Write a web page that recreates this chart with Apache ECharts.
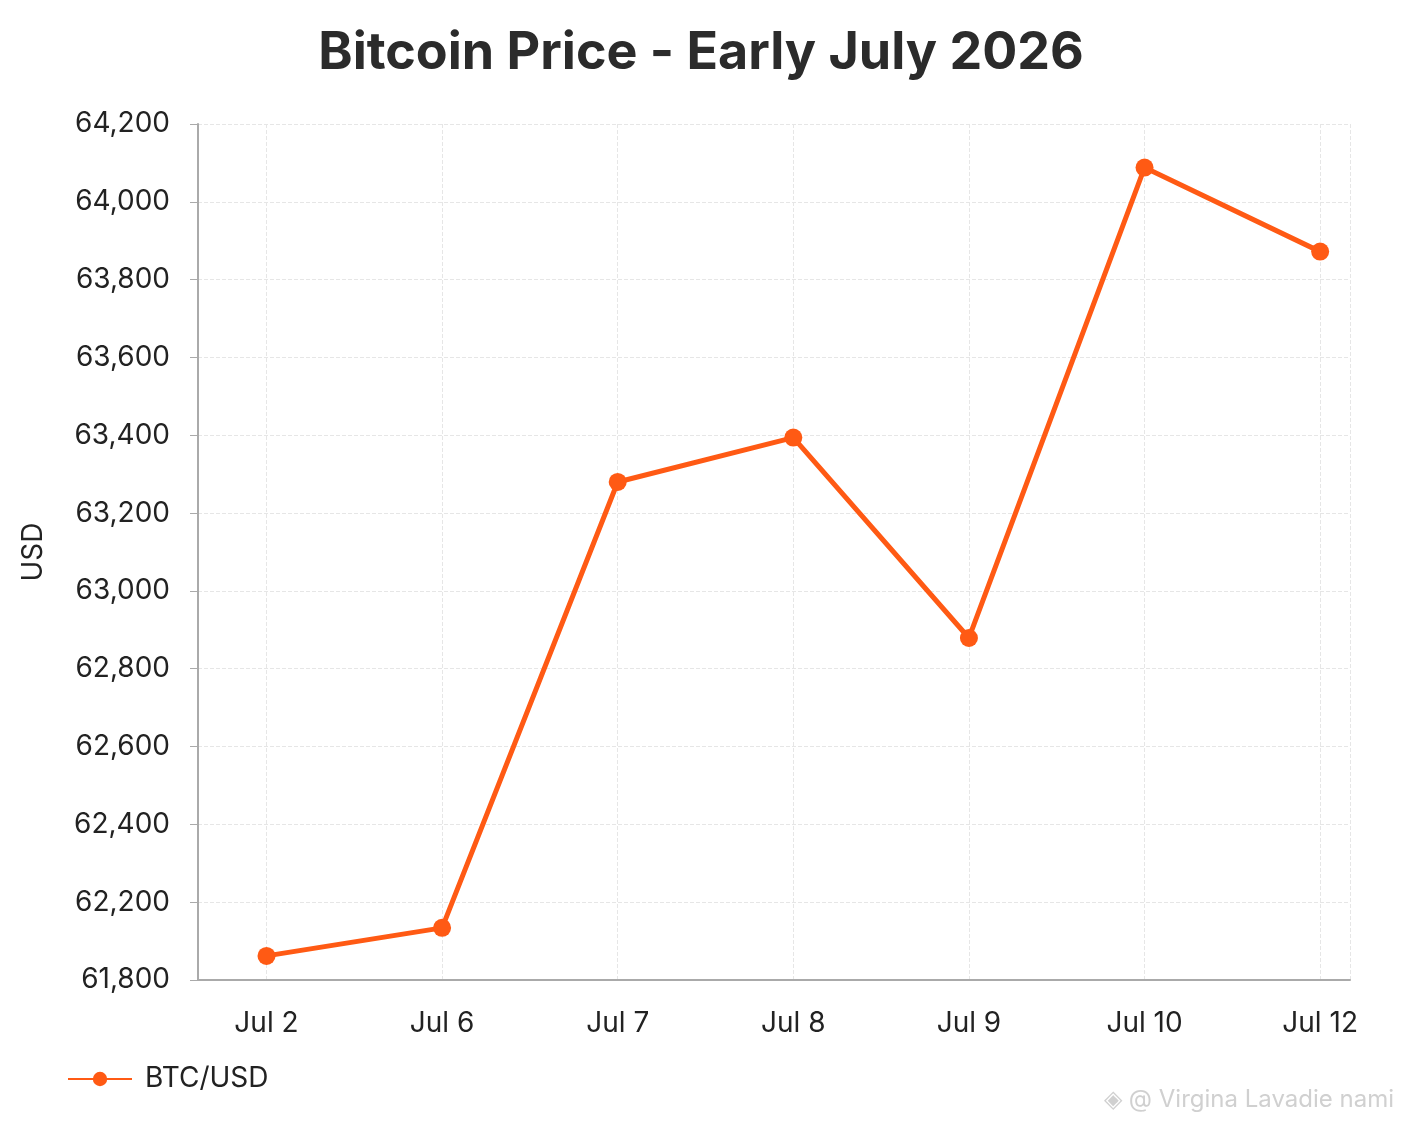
<!DOCTYPE html>
<html>
<head>
<meta charset="utf-8">
<script src="https://cdn.jsdelivr.net/npm/echarts@6/dist/echarts.min.js"></script>
<style>html,body{margin:0;background:#fff}#chart{width:1402px;height:1122px}</style>
</head>
<body>
<div id="chart"></div>
<script>
    var days = ['Jul 2', 'Jul 6', 'Jul 7', 'Jul 8', 'Jul 9', 'Jul 10', 'Jul 12'];
    var btcUsd = [62062, 62134, 63280, 63394, 62879, 64088, 63872];
    // tick labels as printed on the original (bottom one reads 61,800)
    var yTicks = [62000, 62200, 62400, 62600, 62800, 63000, 63200, 63400, 63600, 63800, 64000, 64200];
    var yTickLabels = ['61,800', '62,200', '62,400', '62,600', '62,800', '63,000', '63,200', '63,400', '63,600', '63,800', '64,000', '64,200'];

    var font = '"Inter", "Noto Sans", sans-serif';
    var myChart = echarts.init(document.getElementById('chart'));
    var option = {
        textStyle: { fontFamily: font },
        title: {
            text: 'Bitcoin Price - Early July 2026',
            left: 'center', top: 22,
            textStyle: { fontSize: 52, fontWeight: 'bold', color: '#2b2b2b', fontFamily: font }
        },
        legend: {
            left: 62, bottom: 24, itemWidth: 64, itemHeight: 18, itemGap: 20,
            textStyle: { fontSize: 28, color: '#222', padding: [0, 0, 0, 8] },
            data: ['BTC/USD']
        },
        grid: { left: 198, right: 52, top: 124, bottom: 142 },
        xAxis: {
            type: 'value', min: -0.39, max: 6.17,
            axisLine: { lineStyle: { color: '#aaa', width: 2 } },
            axisTick: { show: false },
            axisLabel: {
                customValues: [0, 1, 2, 3, 4, 5, 6],
                formatter: function (v) { return days[Math.round(v)]; },
                fontSize: 28, color: '#222', margin: 30
            },
            splitLine: { show: true, lineStyle: { type: 'dashed', color: '#e6e6e6' } }
        },
        yAxis: {
            type: 'value', min: 62000, max: 64200, interval: 200,
            name: 'USD', nameLocation: 'middle', nameGap: 150, nameRotate: 90,
            nameTextStyle: { fontSize: 28, color: '#222' },
            axisLine: { show: true, onZero: false, lineStyle: { color: '#aaa', width: 2 } },
            axisTick: { show: true, length: 8, lineStyle: { color: '#aaa' } },
            axisLabel: {
                fontSize: 28, color: '#222', margin: 28,
                formatter: function (v) { return yTickLabels[yTicks.indexOf(v)]; }
            },
            splitLine: { lineStyle: { type: 'dashed', color: '#e6e6e6' } }
        },
        series: [{
            name: 'BTC/USD',
            type: 'line',
            data: btcUsd.map(function (v, i) { return [i, v]; }),
            symbol: 'circle', symbolSize: 18,
            lineStyle: { width: 5, color: '#ff5a14' },
            itemStyle: { color: '#ff5a14' }
        }],
        graphic: [{
            type: 'text', right: 8, bottom: 10,
            style: { text: '◈ @ Virgina Lavadie nami', fontSize: 24, fill: '#d0d0d0', fontFamily: font }
        }]
    };
    myChart.setOption(option);
</script>
</body>
</html>
